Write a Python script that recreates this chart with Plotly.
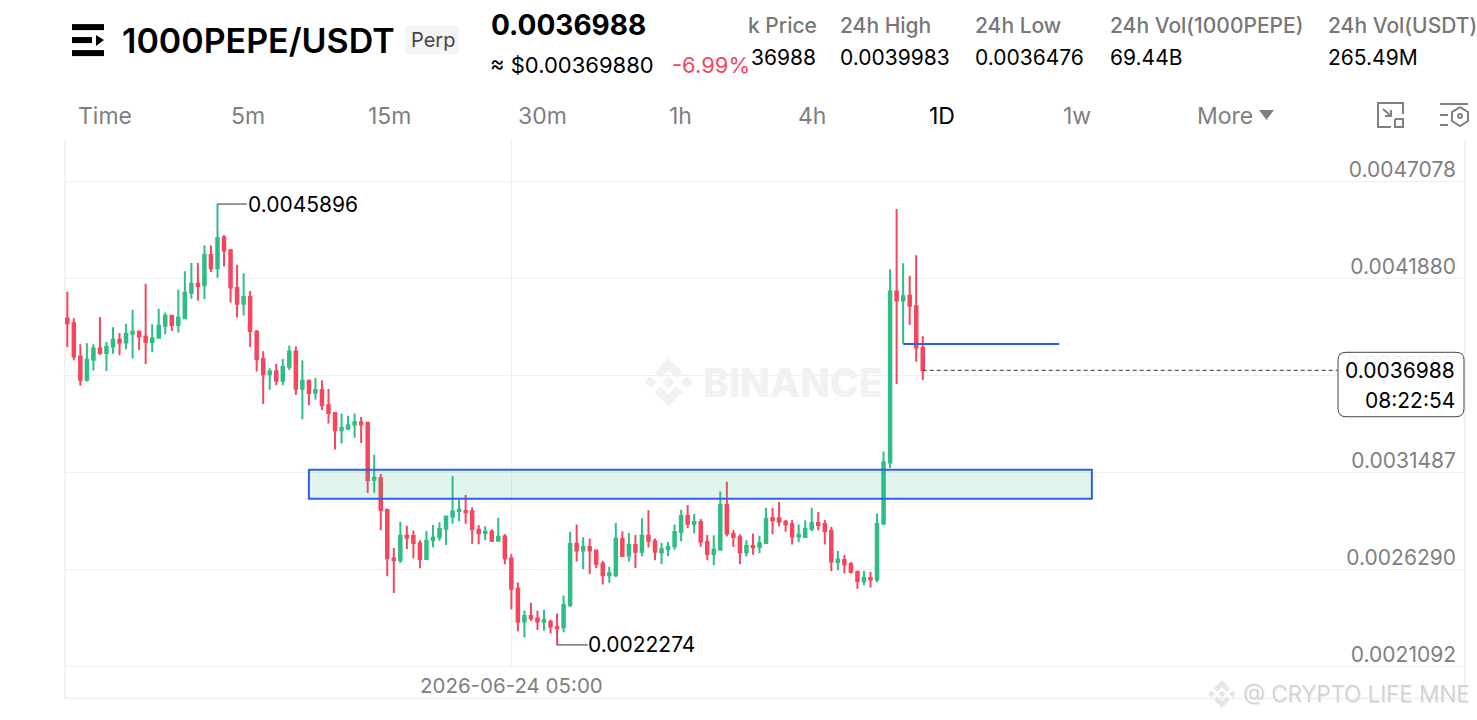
import plotly.graph_objects as go

# prices are kept in units of 1e-7 USDT
PRICE_UNIT = 1e-7

opens = [39760, 39510, 37730, 36480, 37550, 38160, 37910, 38260, 38620, 38480,
         38940, 39070, 38780, 38510, 38730, 39370, 39910, 39410, 39780, 41140,
         41620, 41550, 43170, 42460, 44100, 43420, 41400, 40550, 40920, 39050,
         37590, 36780, 36940, 36430, 37180, 38000, 36000, 36430, 35780, 35930,
         35110, 34700, 33780, 33860, 34090, 34210, 34180, 31130, 31200, 29500,
         26900, 26810, 28130, 28110, 27720, 26880, 27880, 28040, 28500, 29160,
         29450, 29450, 29430, 28450, 28270, 28340, 27860, 28080, 26900, 25280,
         23530, 23830, 23690, 23510, 23510, 23240, 23220, 24420, 27700, 27330,
         27520, 27330, 26620, 26010, 26010, 27950, 27060, 27630, 27260, 28130,
         27830, 27220, 27400, 27560, 28330, 29180, 28760, 28860, 27790, 27150,
         27380, 29770, 28220, 28040, 27240, 27580, 27520, 27740, 29080, 29060,
         28880, 28740, 28090, 28060, 28500, 28810, 28750, 28380, 26720, 26830,
         26600, 26200, 25690, 25860, 25780, 28770, 32050, 41210, 40730, 40980,
         40420, 38190]
closes = [39510, 37730, 36480, 37550, 38160, 37910, 38250, 38620, 38480, 38940,
          39050, 38800, 38510, 38710, 39370, 39910, 39410, 39800, 41140, 41620,
          41510, 43170, 42460, 44080, 43400, 41420, 40550, 40920, 39090, 37590,
          36780, 36920, 36430, 37160, 38000, 36000, 36430, 35770, 35930, 35120,
          34700, 33780, 33890, 34050, 34210, 34090, 31110, 31230, 29500, 26920,
          26810, 28130, 28020, 27740, 26880, 27860, 28020, 28490, 29150, 29420,
          29520, 29380, 28490, 28260, 28340, 27850, 28060, 26920, 25290, 23530,
          23830, 23700, 23530, 23600, 23260, 23170, 24420, 27680, 27330, 27520,
          27340, 26630, 26010, 26110, 27970, 27040, 27630, 27260, 28130, 27850,
          27260, 27400, 27520, 28330, 29180, 28760, 28860, 27810, 27150, 27380,
          29770, 28240, 28060, 27240, 27580, 27510, 27740, 29040, 28950, 28880,
          28740, 28090, 28180, 28500, 28810, 28700, 28380, 26740, 26850, 26600,
          26200, 25700, 25860, 25780, 28750, 32050, 41210, 40730, 40960, 40440,
          38210, 36988]
highs = [41190, 39780, 38390, 38440, 38390, 39850, 38500, 39300, 38980, 39480,
         40230, 39100, 41620, 39460, 40280, 40080, 39940, 41300, 42300, 42740,
         42740, 43690, 43670, 45896, 44240, 43490, 42640, 42190, 41240, 39150,
         38010, 37100, 37320, 37590, 38320, 38260, 37510, 36500, 36570, 36460,
         35980, 34750, 34680, 34550, 34680, 34480, 34200, 32460, 31430, 29590,
         27470, 28880, 28660, 28400, 27880, 28380, 28700, 28850, 29200, 31320,
         30060, 30310, 29650, 28700, 28630, 28470, 29090, 28220, 27150, 25620,
         24120, 24530, 24100, 24150, 23620, 23960, 24920, 28340, 28720, 28040,
         27970, 27380, 26780, 26460, 28810, 28360, 28270, 28170, 29060, 29490,
         27970, 27740, 27790, 28720, 29520, 29770, 29290, 29020, 28170, 28150,
         30490, 31020, 28430, 28200, 27880, 28240, 28130, 29630, 29610, 29930,
         28970, 28970, 28720, 28950, 29630, 29400, 28970, 28590, 27310, 27100,
         26720, 26260, 26240, 26180, 29310, 32640, 42400, 45630, 42720, 42060,
         43150, 38820]
lows = [38230, 37520, 36160, 36390, 36980, 37820, 36950, 37870, 37800, 38120,
        37620, 38070, 37320, 37960, 38690, 38920, 39100, 39010, 39750, 40820,
        40730, 40800, 42260, 41940, 42550, 40620, 39820, 39930, 38230, 36920,
        35180, 35940, 36190, 36190, 37010, 35660, 34360, 35120, 35430, 34860,
        34140, 32750, 33070, 33770, 33370, 33090, 30410, 30430, 28420, 25950,
        25060, 26670, 27420, 26900, 26380, 26850, 27510, 27850, 27630, 28770,
        28900, 28760, 27690, 27670, 27880, 27790, 27860, 26600, 24190, 23010,
        22690, 23550, 23080, 23030, 22890, 22274, 22960, 24300, 26740, 26330,
        26080, 26400, 25510, 25600, 25920, 27020, 26740, 26400, 27020, 27490,
        26810, 26600, 27020, 27380, 27810, 28520, 28240, 27540, 26810, 26540,
        27350, 28090, 27520, 26600, 27010, 27110, 27200, 27700, 28200, 28630,
        28340, 27650, 27770, 28040, 28360, 28420, 27650, 26220, 26270, 26100,
        26100, 25280, 25470, 25350, 25630, 28740, 31750, 36250, 38410, 39420,
        37440, 36460]

price_ticks = [0.0047078, 0.0041880, 0.0036683, 0.0031487, 0.0026290, 0.0021092]
time_tick_index = 68
time_tick_label = '2026-06-24 05:00'

period_tabs = ['Time', '5m', '15m', '30m', '1h', '4h', '1D', '1w', 'More']
stat_labels = ['k Price', '24h High', '24h Low', '24h Vol(1000PEPE)', '24h Vol(USDT)']
stat_values = ['36988', '0.0039983', '0.0036476', '69.44B', '265.49M']

last_price = 0.0036988
max_price = 0.0045896
max_index = 23
min_price = 0.0022274
min_index = 75
zone_top = 0.0031663
zone_bottom = 0.0030111
zone_start = 37.0
zone_end = 156.9
level_price = 0.0038400
level_start = 128
level_end = 151.9

GREEN = '#2ebd85'
RED = '#f6465d'
BLUE = '#2f5fe8'
GREY = '#808080'
GRID = '#efefef'
FONT = 'Inter'

# plot frame on the page, in pixels
LEFT, RIGHT, TOP, BOTTOM = 65, 1465, 140, 668.5
WIDTH, HEIGHT = 1477, 720


def px(x):
    return (x - LEFT) / (RIGHT - LEFT)


def py(y):
    return (BOTTOM - y) / (BOTTOM - TOP)


def label(x, y, text, size=20, color='#000000', weight=400, anchor='left', **kw):
    return dict(x=px(x), y=py(y), xref='paper', yref='paper', text=text, showarrow=False,
                xanchor=anchor, yanchor='middle', borderpad=0,
                font=dict(family=FONT, size=size, color=color, weight=weight, **kw))


def page_shape(kind, x0, y0, x1, y1, color=None, fill=None, width=1, layer='above'):
    return dict(type=kind, xref='paper', yref='paper', x0=px(x0), y0=py(y0), x1=px(x1), y1=py(y1),
                line=dict(color=color, width=width if color else 0), fillcolor=fill, layer=layer)


def page_path(points, color=None, fill=None, width=1, closed=False, layer='above'):
    """points are pixel positions, one list per sub path"""
    parts = []
    for sub in points:
        parts.append('M' + ' L'.join('%.5f,%.5f' % (px(x), py(y)) for x, y in sub))
        if closed:
            parts[-1] += ' Z'
    return dict(type='path', xref='paper', yref='paper', path=' '.join(parts),
                line=dict(color=color, width=width if color else 0), fillcolor=fill, layer=layer)


def logo(cx, cy, r, fill, layer='below'):
    s = r / 24.0
    diamond = lambda x, y, d: [(cx + x * s, cy + (y - d) * s), (cx + (x + d) * s, cy + y * s),
                               (cx + x * s, cy + (y + d) * s), (cx + (x - d) * s, cy + y * s)]
    top = [(0, -24), (14, -10), (8, -4), (0, -12), (-8, -4), (-14, -10)]
    bottom = [(0, 24), (14, 10), (8, 4), (0, 12), (-8, 4), (-14, 10)]
    subs = [diamond(0, 0, 6), diamond(-18, 0, 6), diamond(18, 0, 6),
            [(cx + a * s, cy + b * s) for a, b in top],
            [(cx + a * s, cy + b * s) for a, b in bottom]]
    return page_path(subs, fill=fill, closed=True, layer=layer)


x_index = list(range(len(opens)))
scale = lambda values: [round(v * PRICE_UNIT, 7) for v in values]

fig = go.Figure(go.Candlestick(
    x=x_index,
    open=scale(opens), high=scale(highs), low=scale(lows), close=scale(closes),
    increasing=dict(line=dict(color=GREEN, width=2), fillcolor=GREEN),
    decreasing=dict(line=dict(color=RED, width=2), fillcolor=RED),
    whiskerwidth=0,
    hoverinfo='skip',
))

shapes = [
    # frame
    page_shape('line', LEFT, TOP, LEFT, 699, color=GRID, width=1.5, layer='below'),
    page_shape('line', RIGHT, TOP, RIGHT, 699, color=GRID, width=1.5, layer='below'),
    page_shape('line', LEFT, 699, RIGHT, 699, color=GRID, width=1.5, layer='below'),
    logo(668.5, 382.5, 24, '#f1f1f1'),
    # marked zone and level
    dict(type='rect', xref='x', yref='y', x0=zone_start, x1=zone_end, y0=zone_bottom, y1=zone_top,
         line=dict(color=BLUE, width=2), fillcolor='rgba(46,189,133,0.15)'),
    dict(type='line', xref='x', yref='y', x0=level_start, x1=level_end, y0=level_price, y1=level_price,
         line=dict(color=BLUE, width=2)),
    # last price
    dict(type='line', xref='x', yref='y', x0=x_index[-1], x1=194.5, y0=last_price, y1=last_price,
         line=dict(color='#333333', width=1, dash='4px,3px')),
    # max and min callouts
    dict(type='line', xref='x', yref='y', x0=max_index, x1=max_index + 4.5, y0=max_price, y1=max_price,
         line=dict(color='#333333', width=1)),
    dict(type='line', xref='x', yref='y', x0=min_index, x1=min_index + 4.7, y0=min_price, y1=min_price,
         line=dict(color='#333333', width=1)),
    # price box
    dict(type='path', xref='paper', yref='paper',
         path='M%.5f,%.5f L%.5f,%.5f Q%.5f,%.5f %.5f,%.5f L%.5f,%.5f Q%.5f,%.5f %.5f,%.5f '
              'L%.5f,%.5f Q%.5f,%.5f %.5f,%.5f L%.5f,%.5f Q%.5f,%.5f %.5f,%.5f Z' % (
                  px(1346), py(352.5), px(1456), py(352.5), px(1464), py(352.5), px(1464), py(360),
                  px(1464), py(409), px(1464), py(417), px(1456), py(417),
                  px(1346), py(417), px(1338), py(417), px(1338), py(409),
                  px(1338), py(360), px(1338), py(352.5), px(1346), py(352.5)),
         line=dict(color='#444444', width=1), fillcolor='rgba(255,255,255,0.9)'),
    # header
    page_shape('rect', 72, 24, 104, 30, fill='#000000'),
    page_shape('rect', 72, 37, 92, 43, fill='#000000'),
    page_shape('rect', 72, 50, 104, 56, fill='#000000'),
    page_path([[(96, 35), (104, 40), (96, 46)]], fill='#000000', closed=True),
    page_shape('rect', 405, 26, 459, 54, fill='#f5f5f5'),
    page_path([[(1259, 110), (1274, 110), (1266.5, 120)]], fill=GREY, closed=True),
    # toolbar icons
    page_path([[(1403, 114), (1403, 103), (1378, 103), (1378, 127), (1391, 127)],
               [(1395, 119), (1403, 119), (1403, 127), (1395, 127), (1395, 119)],
               [(1383, 109), (1391, 116)], [(1391, 110), (1391, 116), (1385, 116)]],
              color=GREY, width=2),
    page_path([[(1440, 104), (1468, 104)], [(1440, 115), (1448, 115)], [(1440, 125), (1448, 125)],
               [(1460, 107), (1468, 112), (1468, 121), (1460, 126), (1452, 121), (1452, 112), (1460, 107)]],
              color=GREY, width=2),
    page_shape('circle', 1458, 114, 1462, 118, color=GREY, width=2),
    logo(1222, 694.5, 14, '#e6e6e6', layer='above'),
]

annotations = [
    label(120.5, 40, '1000PEPE/USDT', size=34, weight=600),
    label(410, 40, 'Perp', size=20, color='#444444'),
    label(490, 25, '0.0036988', size=28, weight=700),
    label(489, 65, '≈ $0.00369880', size=22),
    label(671, 65, '-6.99%', size=22, color=RED),
    label(702, 383, 'BINANCE', size=39, color='#f1f1f1', weight=800),
    label(1242, 694, '@ CRYPTO LIFE MNE', size=22.5, color='#d0d0d0', weight=300,
          shadow='1px 1px 1px #e6e6e6'),
    label(1456, 371, '0.0036988', size=21, anchor='right'),
    label(1456, 401, '08:22:54', size=21, anchor='right'),
    dict(x=max_index + 4.3, y=max_price, xref='x', yref='y', text='0.0045896', showarrow=False,
         xanchor='left', font=dict(family=FONT, size=21, color='#000000')),
    dict(x=min_index + 4.4, y=min_price, xref='x', yref='y', text='0.0022274', showarrow=False,
         xanchor='left', font=dict(family=FONT, size=21, color='#000000')),
]

stat_x = [747, 839, 974, 1109, 1327]
for x, name, value in zip(stat_x, stat_labels, stat_values):
    annotations.append(label(x, 25, name, size=21, color='#777777', weight=500))
    annotations.append(label(x + 3 if x == 747 else x, 57, value, size=21))

tab_x = [76.5, 229.5, 367, 517, 668, 797, 928, 1062, 1196]
for x, name in zip(tab_x, period_tabs):
    annotations.append(label(x, 116, name, size=23, color='#000000' if name == '1D' else GREY))

fig.update_layout(
    width=WIDTH, height=HEIGHT,
    margin=dict(l=LEFT, r=WIDTH - RIGHT, t=TOP, b=HEIGHT - BOTTOM, pad=0, autoexpand=False),
    plot_bgcolor='#ffffff', paper_bgcolor='#ffffff',
    showlegend=False, hovermode=False, boxgap=0.45,
    shapes=shapes, annotations=annotations,
    xaxis=dict(range=[-0.352, 214.04], rangeslider=dict(visible=False), zeroline=False,
               tickmode='array', tickvals=[time_tick_index], ticktext=[time_tick_label],
               showgrid=True, gridcolor=GRID, gridwidth=1, ticks='', ticklabelstandoff=3,
               tickfont=dict(family=FONT, size=20.5, color=GREY), showline=False),
    yaxis=dict(range=[0.0021038, 0.0049327], side='right', ticklabelposition='inside',
               tickmode='array', tickvals=price_ticks, ticktext=['%.7f' % v for v in price_ticks],
               showgrid=True, gridcolor=GRID, gridwidth=1, zeroline=False, showline=False,
               ticks='', ticklabelstandoff=6, ticklabelshift=-12,
               tickfont=dict(family=FONT, size=21, color=GREY)),
)

fig.write_html("out.html", config=dict(displayModeBar=False),
               post_script="document.body.style.margin='0';document.body.style.overflow='hidden';")
